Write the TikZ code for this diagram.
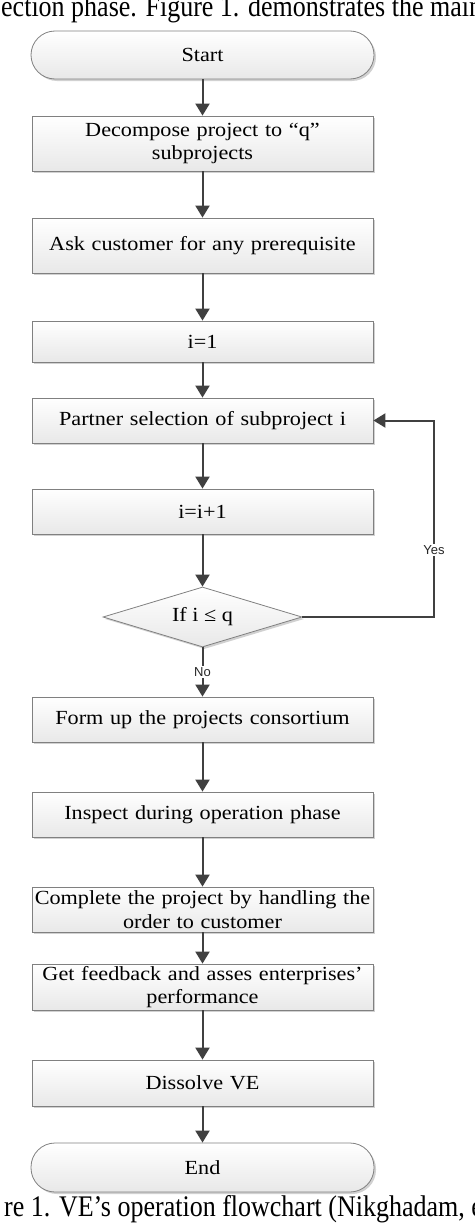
\documentclass[tikz,border=0pt]{standalone}
\usepackage{graphicx}
\usepackage{fontspec}
\setmainfont[FakeStretch=1.11]{Liberation Serif}
\newfontfamily\capfont{Liberation Serif}
\newfontfamily\lblfont{Liberation Sans}
\usetikzlibrary{arrows.meta,shapes.geometric,shadows}
\begin{document}
\begin{tikzpicture}[x=1pt,y=-1pt,
  box/.style={draw=black!50, line width=0.8pt, top color=white, bottom color=black!9,
    minimum width=341pt, text width=337pt, align=center, inner sep=0pt,
    font=\fontsize{20}{23.5}\selectfont,
    drop shadow={shadow xshift=2pt, shadow yshift=-2pt, fill=black!30, opacity=0.6}},
  term/.style={box, rounded corners=24pt, minimum width=343pt},
  dec/.style={shape=diamond, draw=black!50, line width=0.8pt, top color=white, bottom color=black!9,
    minimum width=199pt, minimum height=60pt, aspect=3.3, inner sep=0pt,
    font=\fontsize{20}{23.5}\selectfont,
    drop shadow={shadow xshift=2pt, shadow yshift=-2pt, fill=black!30, opacity=0.6}},
  arr/.style={draw=black!75, line width=2pt, -{Triangle[width=14pt,length=12pt]}},
  lbl/.style={fill=white, inner sep=1.5pt, font=\lblfont\fontsize{13}{13}\selectfont, text=black!85},
  captxt/.style={anchor=base west, inner sep=0pt, font=\capfont\fontsize{26}{26}\selectfont}
]
\useasboundingbox (0,0) rectangle (474,1223);
\clip (0,0) rectangle (474,1223);

\node[captxt] (cap1) at (1,17) {\scalebox{1}[1.15]{ection phase. Figure 1. demonstrates the main}};
\node[captxt] (cap2) at (4,1216) {\scalebox{1}[1.15]{re 1. VE’s operation flowchart (Nikghadam, e}};

\node[term, minimum height=48pt] (start) at (202.5,55) {Start};
\node[box, minimum height=55pt] (decomp) at (202.5,143.5) {Decompose project to “q”\\subprojects};
\node[box, minimum height=55pt] (ask) at (202.5,245.5) {Ask customer for any prerequisite};
\node[box, minimum height=41pt] (ione) at (202.5,341.5) {i=1};
\node[box, minimum height=45pt] (partner) at (202.5,420.5) {Partner selection of subproject i};
\node[box, minimum height=45pt] (inc) at (202.5,511.5) {i=i+1};
\node[dec] (dia) at (202.5,617) {If i ≤ q};
\node[box, minimum height=45pt] (form) at (202.5,719.5) {Form up the projects consortium};
\node[box, minimum height=45pt] (inspect) at (202.5,814.5) {Inspect during operation phase};
\node[box, minimum height=45pt] (complete) at (202.5,909.5) {Complete the project by handling the\\order to customer};
\node[box, minimum height=46pt] (feedback) at (202.5,987) {Get feedback and asses enterprises’\\performance};
\node[box, minimum height=46pt] (dissolve) at (202.5,1083) {Dissolve VE};
\node[term, minimum height=49pt] (end) at (202.5,1167.5) {End};

\draw[arr] (start) -- (decomp);
\draw[arr] (decomp) -- (ask);
\draw[arr] (ask) -- (ione);
\draw[arr] (ione) -- (partner);
\draw[arr] (partner) -- (inc);
\draw[arr] (inc) -- (dia);
\draw[arr] (dia) -- (form);
\draw[arr] (form) -- (inspect);
\draw[arr] (inspect) -- (complete);
\draw[arr] (complete) -- (feedback);
\draw[arr] (feedback) -- (dissolve);
\draw[arr] (dissolve) -- (end);

\coordinate (yc) at (434,617);
\draw[arr] (dia.east) -- (yc) |- (partner.east);
\node[lbl] (yes) at (434,550) {Yes};
\node[lbl] (no) at (202.5,672) {No};
\end{tikzpicture}
\end{document}
